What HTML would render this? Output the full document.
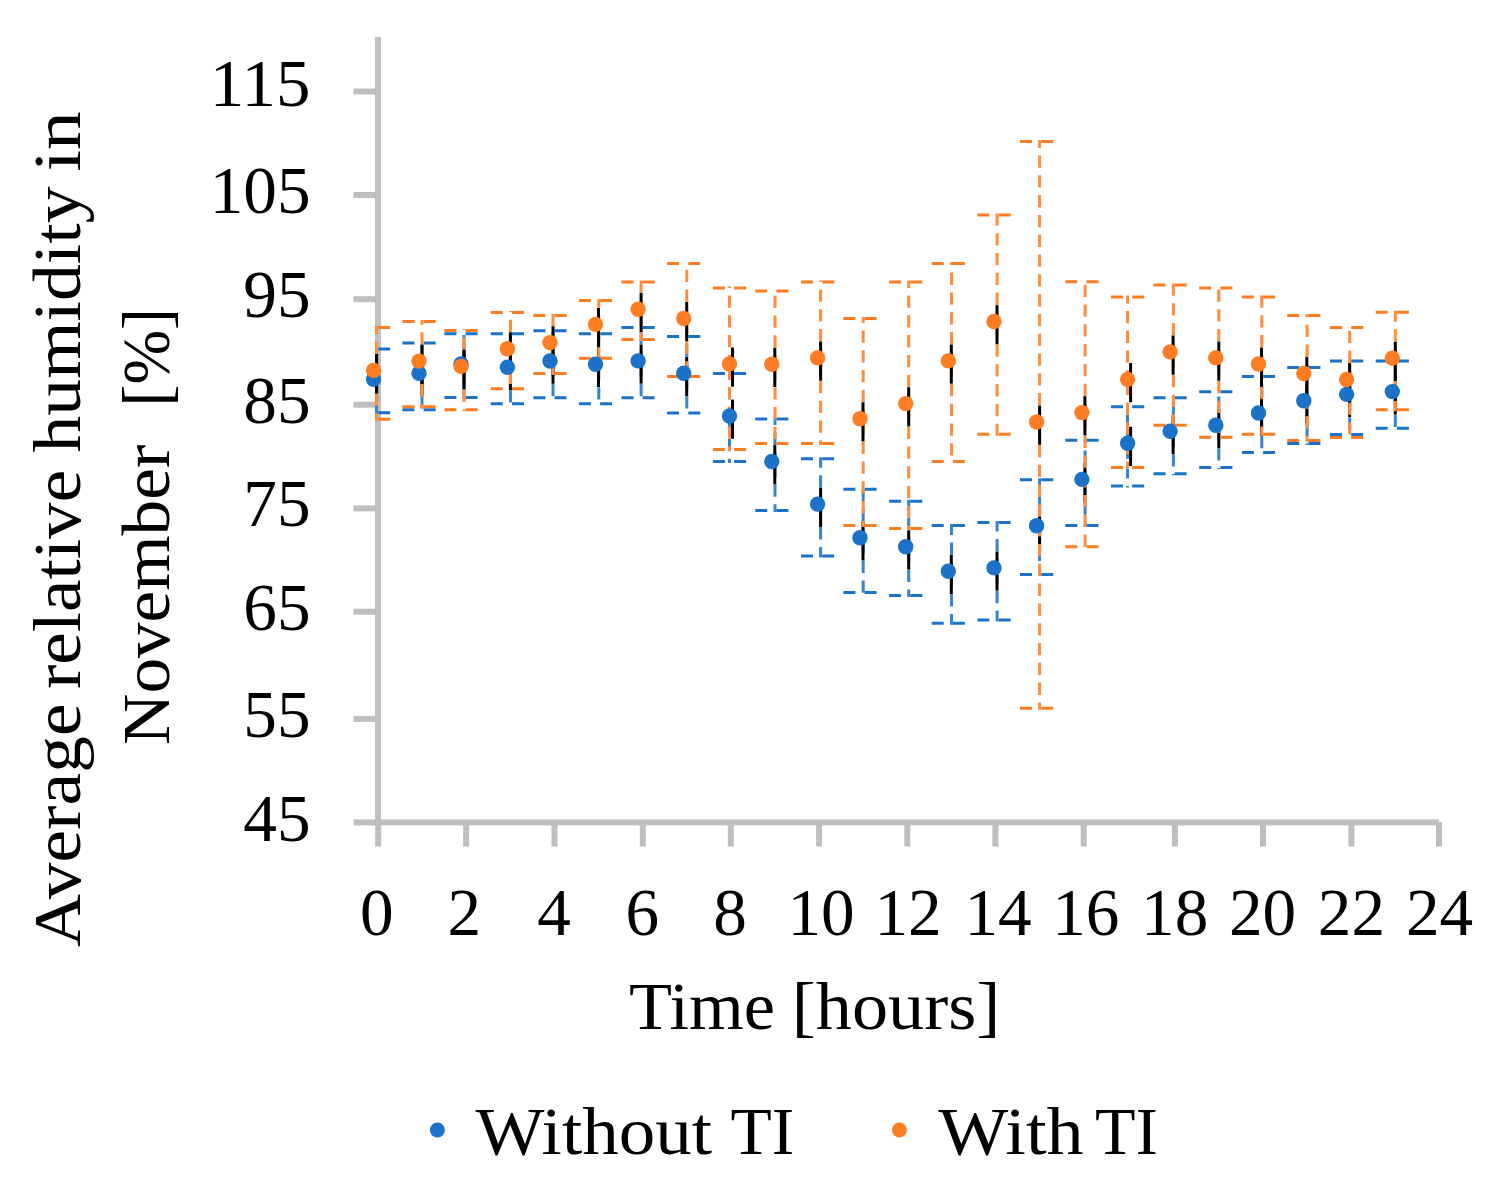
<!DOCTYPE html>
<html lang="en"><head><meta charset="utf-8"><title>Average relative humidity in November</title>
<style>
html,body{margin:0;padding:0;background:#fff;}
body{width:1495px;height:1192px;overflow:hidden;font-family:"Liberation Serif",serif;}
svg{display:block;}
text{font-family:"Liberation Serif",serif;fill:#000;}
</style></head><body>
<svg width="1495" height="1192" viewBox="0 0 1495 1192">
<rect width="1495" height="1192" fill="#fff"/>
<defs><clipPath id="plot"><rect x="375" y="30" width="1100" height="800"/></clipPath></defs>

<g fill="#bfbfbf">
<rect x="375" y="37" width="6" height="788.4"/>
<rect x="353.5" y="819.4" width="1085.5" height="6"/>
<rect x="353.5" y="88.5" width="22" height="6"/>
<rect x="353.5" y="192.0" width="22" height="6"/>
<rect x="353.5" y="296.2" width="22" height="6"/>
<rect x="353.5" y="401.7" width="22" height="6"/>
<rect x="353.5" y="505.4" width="22" height="6"/>
<rect x="353.5" y="608.7" width="22" height="6"/>
<rect x="353.5" y="715.9" width="22" height="6"/>
<rect x="375.2" y="822" width="6" height="24.6"/>
<rect x="463.1" y="822" width="6" height="24.6"/>
<rect x="551.5" y="822" width="6" height="24.6"/>
<rect x="639.8" y="822" width="6" height="24.6"/>
<rect x="727.8" y="822" width="6" height="24.6"/>
<rect x="816.1" y="822" width="6" height="24.6"/>
<rect x="904.3" y="822" width="6" height="24.6"/>
<rect x="992.4" y="822" width="6" height="24.6"/>
<rect x="1080.7" y="822" width="6" height="24.6"/>
<rect x="1171.9" y="822" width="6" height="24.6"/>
<rect x="1260.0" y="822" width="6" height="24.6"/>
<rect x="1348.4" y="822" width="6" height="24.6"/>
<rect x="1436.0" y="822" width="6" height="24.6"/>
</g>
<g font-size="68" text-anchor="end">
<text x="310.5" y="106.1" textLength="100.8" lengthAdjust="spacingAndGlyphs">115</text>
<text x="310.5" y="213.0" textLength="100.8" lengthAdjust="spacingAndGlyphs">105</text>
<text x="310.5" y="316.7" textLength="67.2" lengthAdjust="spacingAndGlyphs">95</text>
<text x="310.5" y="422.6" textLength="67.2" lengthAdjust="spacingAndGlyphs">85</text>
<text x="310.5" y="526.2" textLength="67.2" lengthAdjust="spacingAndGlyphs">75</text>
<text x="310.5" y="629.6" textLength="67.2" lengthAdjust="spacingAndGlyphs">65</text>
<text x="310.5" y="736.8" textLength="67.2" lengthAdjust="spacingAndGlyphs">55</text>
<text x="310.5" y="840.5" textLength="67.2" lengthAdjust="spacingAndGlyphs">45</text>
</g>
<g font-size="68" text-anchor="middle">
<text x="376.7" y="934.6" textLength="33.6" lengthAdjust="spacingAndGlyphs">0</text>
<text x="464.3" y="934.6" textLength="33.6" lengthAdjust="spacingAndGlyphs">2</text>
<text x="554.0" y="934.6" textLength="33.6" lengthAdjust="spacingAndGlyphs">4</text>
<text x="642.2" y="934.6" textLength="33.6" lengthAdjust="spacingAndGlyphs">6</text>
<text x="730.0" y="934.6" textLength="33.6" lengthAdjust="spacingAndGlyphs">8</text>
<text x="821.0" y="934.6" textLength="67.2" lengthAdjust="spacingAndGlyphs">10</text>
<text x="908.0" y="934.6" textLength="67.2" lengthAdjust="spacingAndGlyphs">12</text>
<text x="998.0" y="934.6" textLength="67.2" lengthAdjust="spacingAndGlyphs">14</text>
<text x="1085.8" y="934.6" textLength="67.2" lengthAdjust="spacingAndGlyphs">16</text>
<text x="1174.7" y="934.6" textLength="67.2" lengthAdjust="spacingAndGlyphs">18</text>
<text x="1262.5" y="934.6" textLength="67.2" lengthAdjust="spacingAndGlyphs">20</text>
<text x="1351.4" y="934.6" textLength="67.2" lengthAdjust="spacingAndGlyphs">22</text>
<text x="1439.6" y="934.6" textLength="67.2" lengthAdjust="spacingAndGlyphs">24</text>
</g>
<text font-size="68" x="629.00" y="1029.0" textLength="146.06" lengthAdjust="spacingAndGlyphs">Time</text>
<text font-size="68" x="791.80" y="1029.0" textLength="208.53" lengthAdjust="spacingAndGlyphs">[hours]</text>
<text font-size="68" transform="translate(80.0,947.00) rotate(-90)" textLength="243.56" lengthAdjust="spacingAndGlyphs">Average</text>
<text font-size="68" transform="translate(80.0,689.00) rotate(-90)" textLength="219.08" lengthAdjust="spacingAndGlyphs">relative</text>
<text font-size="68" transform="translate(80.0,452.50) rotate(-90)" textLength="266.00" lengthAdjust="spacingAndGlyphs">humidity</text>
<text font-size="68" transform="translate(80.0,171.50) rotate(-90)" textLength="60.12" lengthAdjust="spacingAndGlyphs">in</text>
<text font-size="68" transform="translate(168.6,745.00) rotate(-90)" textLength="300.52" lengthAdjust="spacingAndGlyphs">November</text>
<text font-size="68" transform="translate(168.6,406.50) rotate(-90)" textLength="98.48" lengthAdjust="spacingAndGlyphs">[%]</text>
<text font-size="68" x="475.60" y="1154.0" textLength="236.50" lengthAdjust="spacingAndGlyphs">Without</text>
<text font-size="68" x="730.40" y="1154.0" textLength="63.76" lengthAdjust="spacingAndGlyphs">TI</text>
<text font-size="68" x="938.20" y="1154.0" textLength="145.51" lengthAdjust="spacingAndGlyphs">With</text>
<text font-size="68" x="1095.10" y="1154.0" textLength="62.64" lengthAdjust="spacingAndGlyphs">TI</text>
<circle cx="437.4" cy="1130" r="7.5" fill="#1b72c8"/>
<circle cx="899.4" cy="1130" r="7.5" fill="#ff7d22"/>
<g stroke="#1b72c8" stroke-width="3" fill="none" stroke-dasharray="12.3 7.5" clip-path="url(#plot)">
<path stroke-dasharray="12 9.2" d="M357.0 349.0H390.2M357.0 412.7H390.2"/>
<path stroke="#3683cf" d="M376.5 382.5V347.5M376.5 382.5V414.2"/>
<path stroke-dasharray="12 9.2" d="M402.4 342.9H435.6M402.4 409.7H435.6"/>
<path stroke="#3683cf" d="M422.0 376.5V341.4M422.0 376.5V411.2"/>
<path stroke-dasharray="12 9.2" d="M444.4 333.7H477.6M444.4 397.6H477.6"/>
<path stroke="#3683cf" d="M464.0 367.2V332.2M464.0 367.2V399.1"/>
<path stroke-dasharray="12 9.2" d="M490.8 333.8H524.0M490.8 403.8H524.0"/>
<path stroke="#3683cf" d="M510.5 370.5V332.3M510.5 370.5V405.3"/>
<path stroke-dasharray="12 9.2" d="M533.4 330.8H566.6M533.4 397.8H566.6"/>
<path stroke="#3683cf" d="M553.0 364.2V329.3M553.0 364.2V399.2"/>
<path stroke-dasharray="12 9.2" d="M578.9 333.8H612.1M578.9 403.8H612.1"/>
<path stroke="#3683cf" d="M598.8 367.4V332.3M598.8 367.4V405.3"/>
<path stroke-dasharray="12 9.2" d="M621.5 327.5H654.7M621.5 397.8H654.7"/>
<path stroke="#3683cf" d="M641.1 364.1V326.0M641.1 364.1V399.3"/>
<path stroke-dasharray="12 9.2" d="M667.1 336.6H700.3M667.1 412.9H700.3"/>
<path stroke="#3683cf" d="M686.8 376.5V335.1M686.8 376.5V414.4"/>
<path stroke-dasharray="12 9.2" d="M712.9 373.4H746.1M712.9 461.5H746.1"/>
<path stroke="#3683cf" d="M729.5 419.2V371.9M729.5 419.2V463.0"/>
<path stroke-dasharray="12 9.2" d="M755.2 419.0H788.4M755.2 510.5H788.4"/>
<path stroke="#3683cf" d="M775.0 464.7V417.5M775.0 464.7V512.0"/>
<path stroke-dasharray="12 9.2" d="M801.0 458.7H834.2M801.0 556.1H834.2"/>
<path stroke="#3683cf" d="M820.6 507.3V457.2M820.6 507.3V557.6"/>
<path stroke-dasharray="12 9.2" d="M843.4 489.2H876.6M843.4 592.5H876.6"/>
<path stroke="#3683cf" d="M863.2 540.9V487.7M863.2 540.9V594.0"/>
<path stroke-dasharray="12 9.2" d="M889.1 501.2H922.3M889.1 595.6H922.3"/>
<path stroke="#3683cf" d="M908.7 549.9V499.7M908.7 549.9V597.1"/>
<path stroke-dasharray="12 9.2" d="M931.7 525.6H964.9M931.7 623.2H964.9"/>
<path stroke="#3683cf" d="M951.5 574.5V524.1M951.5 574.5V624.7"/>
<path stroke-dasharray="12 9.2" d="M977.4 522.5H1010.6M977.4 620.0H1010.6"/>
<path stroke="#3683cf" d="M997.1 571.1V521.0M997.1 571.1V621.5"/>
<path stroke-dasharray="12 9.2" d="M1020.0 479.7H1053.2M1020.0 574.4H1053.2"/>
<path stroke="#3683cf" d="M1039.6 528.9V478.2M1039.6 528.9V575.9"/>
<path stroke-dasharray="12 9.2" d="M1065.3 440.3H1098.5M1065.3 525.6H1098.5"/>
<path stroke="#3683cf" d="M1085.1 482.6V438.8M1085.1 482.6V527.1"/>
<path stroke-dasharray="12 9.2" d="M1111.0 406.8H1144.2M1111.0 485.9H1144.2"/>
<path stroke="#3683cf" d="M1127.5 446.4V405.3M1127.5 446.4V487.4"/>
<path stroke-dasharray="12 9.2" d="M1153.5 397.7H1186.7M1153.5 473.8H1186.7"/>
<path stroke="#3683cf" d="M1173.4 434.5V396.2M1173.4 434.5V475.3"/>
<path stroke-dasharray="12 9.2" d="M1199.2 391.7H1232.4M1199.2 467.5H1232.4"/>
<path stroke="#3683cf" d="M1218.8 428.5V390.2M1218.8 428.5V469.0"/>
<path stroke-dasharray="12 9.2" d="M1241.9 376.5H1275.1M1241.9 452.5H1275.1"/>
<path stroke="#3683cf" d="M1261.8 416.2V375.0M1261.8 416.2V454.0"/>
<path stroke-dasharray="12 9.2" d="M1287.2 367.4H1320.4M1287.2 443.6H1320.4"/>
<path stroke="#3683cf" d="M1307.1 403.9V365.9M1307.1 403.9V445.1"/>
<path stroke-dasharray="12 9.2" d="M1330.0 361.1H1363.2M1330.0 434.5H1363.2"/>
<path stroke="#3683cf" d="M1349.7 397.6V359.6M1349.7 397.6V436.0"/>
<path stroke-dasharray="12 9.2" d="M1375.7 361.1H1408.9M1375.7 428.2H1408.9"/>
<path stroke="#3683cf" d="M1395.3 394.8V359.6M1395.3 394.8V429.7"/>
</g>
<g stroke="#000" stroke-width="3" fill="none" clip-path="url(#plot)">
<path d="M376.6 362.9V402.1"/>
<path d="M422.0 356.9V396.1"/>
<path d="M464.0 347.6V386.8"/>
<path d="M510.4 350.9V390.1"/>
<path d="M553.0 344.6V383.8"/>
<path d="M598.5 347.8V387.0"/>
<path d="M641.1 344.5V383.7"/>
<path d="M686.7 356.9V396.1"/>
<path d="M732.5 399.6V438.8"/>
<path d="M774.8 445.1V484.3"/>
<path d="M820.6 487.7V526.9"/>
<path d="M863.0 521.3V560.5"/>
<path d="M908.7 530.3V569.5"/>
<path d="M951.3 554.9V594.1"/>
<path d="M997.0 551.5V590.7"/>
<path d="M1039.6 509.3V548.5"/>
<path d="M1084.9 463.0V502.2"/>
<path d="M1130.6 426.8V466.0"/>
<path d="M1173.1 414.9V454.1"/>
<path d="M1218.8 408.9V448.1"/>
<path d="M1261.5 396.6V435.8"/>
<path d="M1306.8 384.3V423.5"/>
<path d="M1349.6 378.0V417.2"/>
<path d="M1395.3 375.2V414.4"/>
</g>
<g stroke="#ff7d22" stroke-width="3" fill="none" stroke-dasharray="12.3 7.5" clip-path="url(#plot)">
<path stroke-dasharray="12 9.2" d="M357.0 327.6H390.2M357.0 419.3H390.2"/>
<path stroke="#ff8d3d" d="M376.5 373.6V326.1M376.5 373.6V420.8"/>
<path stroke-dasharray="12 9.2" d="M402.4 321.6H435.6M402.4 406.7H435.6"/>
<path stroke="#ff8d3d" d="M422.0 364.3V320.1M422.0 364.3V408.2"/>
<path stroke-dasharray="12 9.2" d="M444.4 330.6H477.6M444.4 409.7H477.6"/>
<path stroke="#ff8d3d" d="M464.0 369.6V329.1M464.0 369.6V411.2"/>
<path stroke-dasharray="12 9.2" d="M490.8 312.4H524.0M490.8 388.7H524.0"/>
<path stroke="#ff8d3d" d="M510.5 351.9V310.9M510.5 351.9V390.2"/>
<path stroke-dasharray="12 9.2" d="M533.4 315.4H566.6M533.4 373.6H566.6"/>
<path stroke="#ff8d3d" d="M553.0 345.8V313.9M553.0 345.8V375.1"/>
<path stroke-dasharray="12 9.2" d="M578.9 300.4H612.1M578.9 358.3H612.1"/>
<path stroke="#ff8d3d" d="M598.8 327.6V298.9M598.8 327.6V359.8"/>
<path stroke-dasharray="12 9.2" d="M621.5 282.0H654.7M621.5 339.6H654.7"/>
<path stroke="#ff8d3d" d="M641.1 312.4V280.5M641.1 312.4V341.1"/>
<path stroke-dasharray="12 9.2" d="M667.1 263.6H700.3M667.1 376.4H700.3"/>
<path stroke="#ff8d3d" d="M686.8 321.7V262.1M686.8 321.7V377.9"/>
<path stroke-dasharray="12 9.2" d="M712.9 288.1H746.1M712.9 449.6H746.1"/>
<path stroke="#ff8d3d" d="M729.5 367.1V286.6M729.5 367.1V451.1"/>
<path stroke-dasharray="12 9.2" d="M755.2 291.0H788.4M755.2 443.4H788.4"/>
<path stroke="#ff8d3d" d="M775.0 367.4V289.5M775.0 367.4V444.9"/>
<path stroke-dasharray="12 9.2" d="M801.0 282.0H834.2M801.0 443.4H834.2"/>
<path stroke="#ff8d3d" d="M820.6 361.1V280.5M820.6 361.1V444.9"/>
<path stroke-dasharray="12 9.2" d="M843.4 318.5H876.6M843.4 525.6H876.6"/>
<path stroke="#ff8d3d" d="M863.2 421.9V317.0M863.2 421.9V527.1"/>
<path stroke-dasharray="12 9.2" d="M889.1 282.0H922.3M889.1 528.5H922.3"/>
<path stroke="#ff8d3d" d="M908.7 406.8V280.5M908.7 406.8V530.0"/>
<path stroke-dasharray="12 9.2" d="M931.7 263.6H964.9M931.7 461.5H964.9"/>
<path stroke="#ff8d3d" d="M951.5 364.1V262.1M951.5 364.1V463.0"/>
<path stroke-dasharray="12 9.2" d="M977.4 215.0H1010.6M977.4 434.3H1010.6"/>
<path stroke="#ff8d3d" d="M997.1 324.7V213.5M997.1 324.7V435.8"/>
<path stroke-dasharray="12 9.2" d="M1020.0 141.6H1053.2M1020.0 708.2H1053.2"/>
<path stroke="#ff8d3d" d="M1039.6 425.2V140.1M1039.6 425.2V709.7"/>
<path stroke-dasharray="12 9.2" d="M1065.3 281.8H1098.5M1065.3 546.8H1098.5"/>
<path stroke="#ff8d3d" d="M1085.1 415.8V280.3M1085.1 415.8V548.3"/>
<path stroke-dasharray="12 9.2" d="M1111.0 297.0H1144.2M1111.0 467.5H1144.2"/>
<path stroke="#ff8d3d" d="M1127.5 382.6V295.5M1127.5 382.6V469.0"/>
<path stroke-dasharray="12 9.2" d="M1153.5 285.0H1186.7M1153.5 425.2H1186.7"/>
<path stroke="#ff8d3d" d="M1173.4 355.1V283.5M1173.4 355.1V426.7"/>
<path stroke-dasharray="12 9.2" d="M1199.2 288.0H1232.4M1199.2 437.3H1232.4"/>
<path stroke="#ff8d3d" d="M1218.8 361.1V286.5M1218.8 361.1V438.8"/>
<path stroke-dasharray="12 9.2" d="M1241.9 297.0H1275.1M1241.9 434.3H1275.1"/>
<path stroke="#ff8d3d" d="M1261.8 367.2V295.5M1261.8 367.2V435.8"/>
<path stroke-dasharray="12 9.2" d="M1287.2 315.4H1320.4M1287.2 440.5H1320.4"/>
<path stroke="#ff8d3d" d="M1307.1 376.7V313.9M1307.1 376.7V442.0"/>
<path stroke-dasharray="12 9.2" d="M1330.0 327.5H1363.2M1330.0 437.6H1363.2"/>
<path stroke="#ff8d3d" d="M1349.7 382.7V326.0M1349.7 382.7V439.1"/>
<path stroke-dasharray="12 9.2" d="M1375.7 312.3H1408.9M1375.7 409.7H1408.9"/>
<path stroke="#ff8d3d" d="M1395.3 361.3V310.8M1395.3 361.3V411.2"/>
</g>
<g stroke="#000" stroke-width="3" fill="none" clip-path="url(#plot)">
<path d="M376.6 354.0V393.2"/>
<path d="M422.0 344.7V383.9"/>
<path d="M464.0 350.0V389.2"/>
<path d="M510.4 332.3V371.5"/>
<path d="M553.0 326.2V365.4"/>
<path d="M598.5 308.0V347.2"/>
<path d="M641.1 292.8V332.0"/>
<path d="M686.7 302.1V341.3"/>
<path d="M732.5 347.5V386.7"/>
<path d="M774.8 347.8V387.0"/>
<path d="M820.6 341.5V380.7"/>
<path d="M863.0 402.3V441.5"/>
<path d="M908.7 387.2V426.4"/>
<path d="M951.3 344.5V383.7"/>
<path d="M997.0 305.1V344.3"/>
<path d="M1039.6 405.6V444.8"/>
<path d="M1084.9 396.2V435.4"/>
<path d="M1130.6 363.0V402.2"/>
<path d="M1173.1 335.5V374.7"/>
<path d="M1218.8 341.5V380.7"/>
<path d="M1261.5 347.6V386.8"/>
<path d="M1306.8 357.1V396.3"/>
<path d="M1349.6 363.1V402.3"/>
<path d="M1395.3 341.7V380.9"/>
</g>
<g fill="#1b72c8">
<circle cx="373.6" cy="379.3" r="7.7"/>
<circle cx="419.0" cy="373.3" r="7.7"/>
<circle cx="461.0" cy="364.0" r="7.7"/>
<circle cx="507.4" cy="367.3" r="7.7"/>
<circle cx="550.0" cy="361.0" r="7.7"/>
<circle cx="595.5" cy="364.2" r="7.7"/>
<circle cx="638.1" cy="360.9" r="7.7"/>
<circle cx="683.7" cy="373.3" r="7.7"/>
<circle cx="729.5" cy="416.0" r="7.7"/>
<circle cx="771.8" cy="461.5" r="7.7"/>
<circle cx="817.6" cy="504.1" r="7.7"/>
<circle cx="860.0" cy="537.7" r="7.7"/>
<circle cx="905.7" cy="546.7" r="7.7"/>
<circle cx="948.3" cy="571.3" r="7.7"/>
<circle cx="994.0" cy="567.9" r="7.7"/>
<circle cx="1036.6" cy="525.7" r="7.7"/>
<circle cx="1081.9" cy="479.4" r="7.7"/>
<circle cx="1127.6" cy="443.2" r="7.7"/>
<circle cx="1170.1" cy="431.3" r="7.7"/>
<circle cx="1215.8" cy="425.3" r="7.7"/>
<circle cx="1258.5" cy="413.0" r="7.7"/>
<circle cx="1303.8" cy="400.7" r="7.7"/>
<circle cx="1346.6" cy="394.4" r="7.7"/>
<circle cx="1392.3" cy="391.6" r="7.7"/>
</g>
<g fill="#ff7d22">
<circle cx="373.6" cy="370.4" r="7.7"/>
<circle cx="419.0" cy="361.1" r="7.7"/>
<circle cx="461.0" cy="366.4" r="7.7"/>
<circle cx="507.4" cy="348.7" r="7.7"/>
<circle cx="550.0" cy="342.6" r="7.7"/>
<circle cx="595.5" cy="324.4" r="7.7"/>
<circle cx="638.1" cy="309.2" r="7.7"/>
<circle cx="683.7" cy="318.5" r="7.7"/>
<circle cx="729.5" cy="363.9" r="7.7"/>
<circle cx="771.8" cy="364.2" r="7.7"/>
<circle cx="817.6" cy="357.9" r="7.7"/>
<circle cx="860.0" cy="418.7" r="7.7"/>
<circle cx="905.7" cy="403.6" r="7.7"/>
<circle cx="948.3" cy="360.9" r="7.7"/>
<circle cx="994.0" cy="321.5" r="7.7"/>
<circle cx="1036.6" cy="422.0" r="7.7"/>
<circle cx="1081.9" cy="412.6" r="7.7"/>
<circle cx="1127.6" cy="379.4" r="7.7"/>
<circle cx="1170.1" cy="351.9" r="7.7"/>
<circle cx="1215.8" cy="357.9" r="7.7"/>
<circle cx="1258.5" cy="364.0" r="7.7"/>
<circle cx="1303.8" cy="373.5" r="7.7"/>
<circle cx="1346.6" cy="379.5" r="7.7"/>
<circle cx="1392.3" cy="358.1" r="7.7"/>
</g>
</svg></body></html>
